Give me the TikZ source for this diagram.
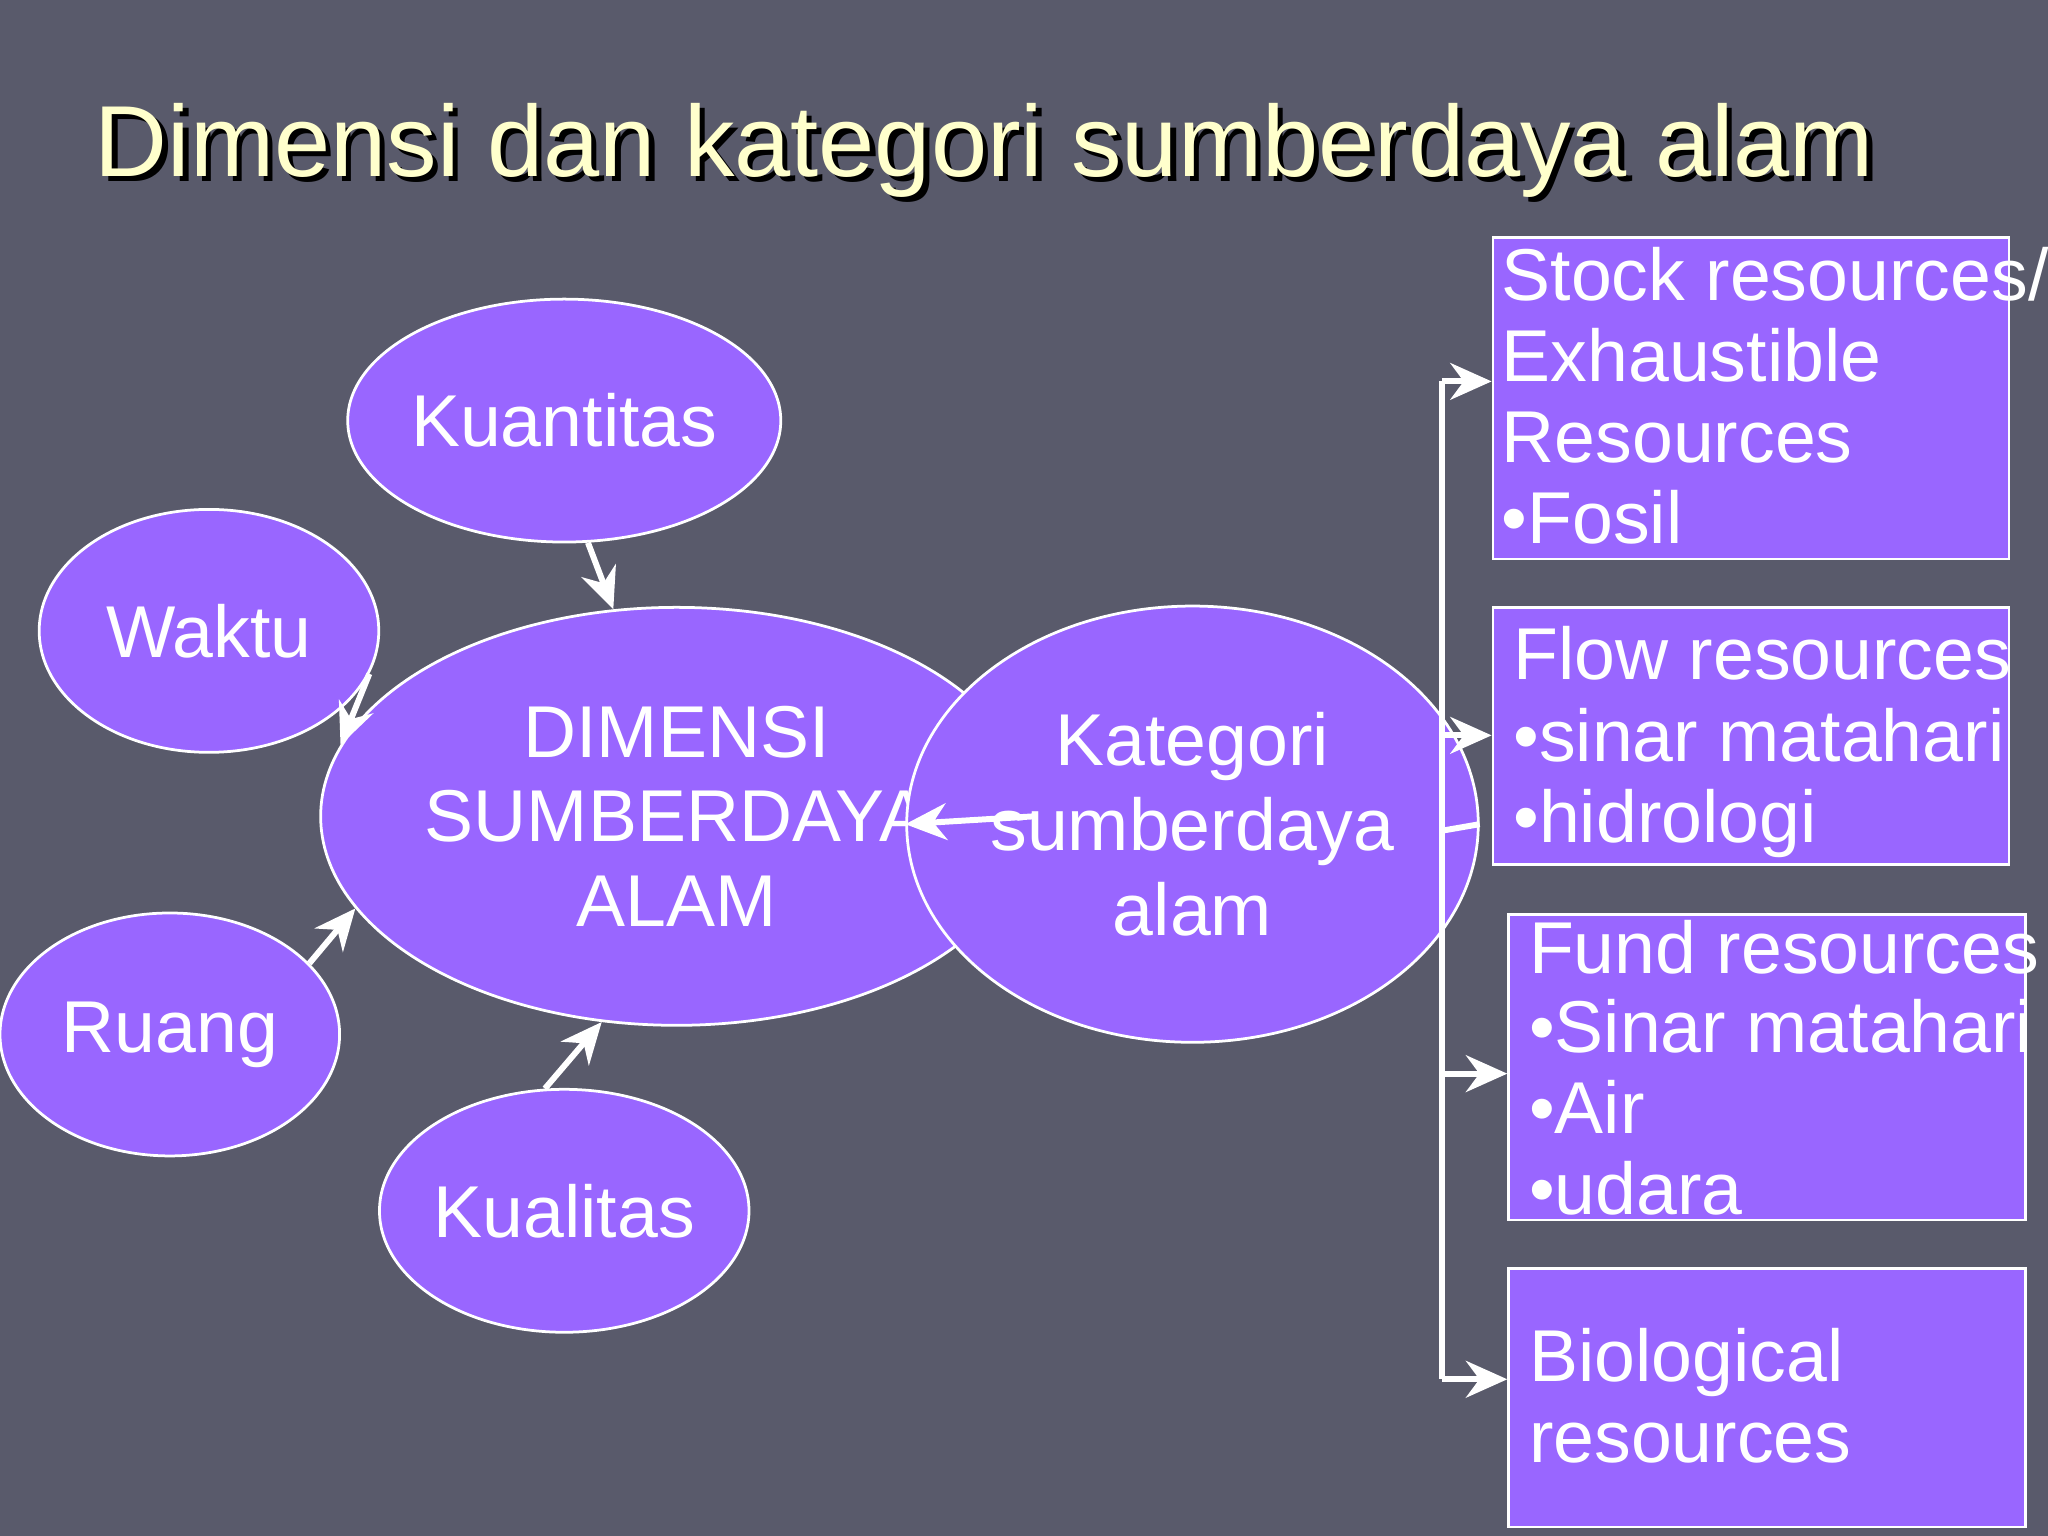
\documentclass[tikz,border=0pt]{standalone}
\usepackage{fontspec}
\setmainfont{Liberation Sans}
\usetikzlibrary{shapes.geometric,arrows.meta}
\definecolor{bg}{HTML}{595A6B}
\definecolor{vio}{HTML}{9966FF}
\definecolor{ttl}{HTML}{FFFFCC}
\tikzset{
 ell/.style={ellipse,draw=white,line width=0.6pt,fill=vio,text=white,inner sep=0pt,align=center,font=\fontsize{16}{18.5}\selectfont},
 box/.style={draw=white,line width=0.6pt,fill=vio,text=white,anchor=north west,inner sep=0pt},
 btxt/.style={text=white,anchor=base west,inner sep=0pt,font=\fontsize{16}{18}\selectfont},
 arr/.style={white,line width=1.3pt,-{Stealth[length=9pt,width=8pt]}},
 ln/.style={white,line width=1.3pt}
}
\begin{document}
\begin{tikzpicture}[x=0.1mm,y=-0.1mm]
\fill[bg] (0,0) rectangle (1568,1176);
\useasboundingbox (0,0) rectangle (1568,1176);
% title
\node[anchor=base west,inner sep=0pt,text=black,font=\fontsize{22}{26}\selectfont] at (76,139) {Dimensi dan kategori sumberdaya alam};
\node[anchor=base west,inner sep=0pt,text=ttl,font=\fontsize{22}{26}\selectfont] (title) at (72,135) {Dimensi dan kategori sumberdaya alam};
% ellipses
\node[ell,minimum width=260\pgflinewidth,minimum width=2.6cm,minimum height=1.86cm] (kuan) at (432,322) {Kuantitas};
\node[ell,minimum width=2.6cm,minimum height=1.86cm] (waktu) at (160,483) {Waktu};
\node[ell,minimum width=2.6cm,minimum height=1.86cm] (ruang) at (130,792) {Ruang};
\node[ell,minimum width=2.6cm,minimum height=1.86cm] (kual) at (432,927) {Kualitas};
\node[ell,minimum width=3.56cm,minimum height=3.2cm] (dim) at (518,625) {DIMENSI\\SUMBERDAYA\\ALAM};
\node[ell,minimum width=3.1cm,minimum height=3.34cm] (kat) at (913,631) {Kategori\\sumberdaya\\alam};
% boxes
\node[box,minimum width=3.95cm,minimum height=2.46cm] (b1) at (1142,181) {};
\node[box,minimum width=3.95cm,minimum height=1.97cm] (b2) at (1142,464) {};
\node[box,minimum width=3.96cm,minimum height=2.34cm] (b3) at (1154,699) {};
\node[box,minimum width=3.96cm,minimum height=1.98cm] (b4) at (1154,970) {};
\node[btxt] at (1149,230) {Stock resources/};
\node[btxt] at (1149,292) {Exhaustible};
\node[btxt] at (1149,354) {Resources};
\node[btxt] at (1149,416) {•Fosil};
\node[btxt] at (1158,520) {Flow resources};
\node[btxt] at (1158,583) {•sinar matahari};
\node[btxt] at (1158,645) {•hidrologi};
\node[btxt] at (1170,745) {Fund resources};
\node[btxt] at (1170,806) {•Sinar matahari};
\node[btxt] at (1170,868) {•Air};
\node[btxt] at (1170,930) {•udara};
\node[btxt] at (1170,1058) {Biological};
\node[btxt] at (1170,1120) {resources};
% arrows
\draw[arr] (kuan.-79) -- (dim.107);
\draw[arr] (waktu.-15) -- (dim.168);
\draw[arr] (ruang.27) -- (dim.-164);
\draw[arr] (kual.99) -- (dim.-110);
\draw[arr] (dim.east) -- (kat.west);
\coordinate (j) at (1104,636);
\coordinate (jt) at (1104,292);
\coordinate (jb) at (1104,1056);
\draw[ln] (kat.east) -- (j);
\draw[ln] (jt) -- (jb);
\draw[arr] (jt) -- (b1.west|-jt);
\draw[arr] (1104,563) -- (b2.west|-0,563);
\draw[arr] (1104,822) -- (b3.west|-0,822);
\draw[arr] (jb) -- (b4.west|-jb);
\end{tikzpicture}
\end{document}
